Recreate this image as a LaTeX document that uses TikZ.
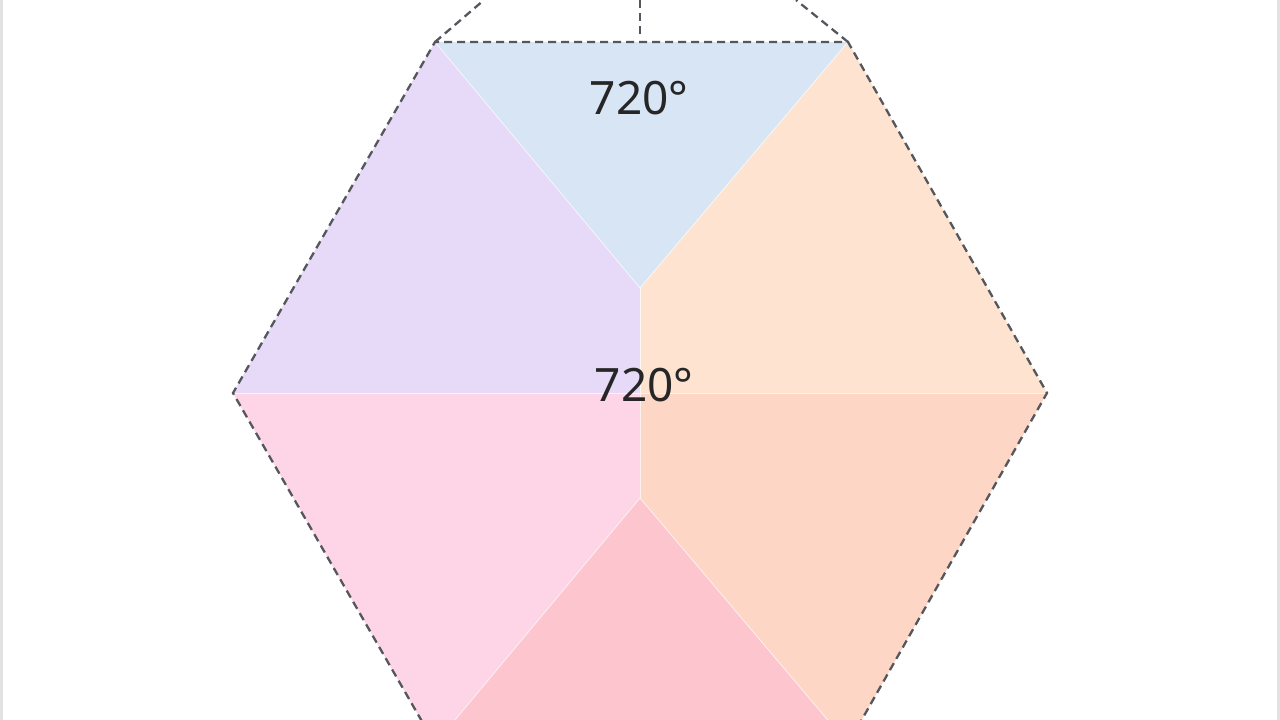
\documentclass[tikz,border=0pt]{standalone}
\usepackage{fontspec}
\setmainfont{Noto Sans}
\definecolor{cTop}{HTML}{D7E5F5}
\definecolor{cLeft}{HTML}{E6DAF8}
\definecolor{cRightUp}{HTML}{FDE3D0}
\definecolor{cLeftLow}{HTML}{FDD5E7}
\definecolor{cRightLow}{HTML}{FDD6C6}
\definecolor{cBottom}{HTML}{FDC5CD}
\definecolor{cDash}{HTML}{55575C}
\definecolor{cFrame}{HTML}{E2E2E2}
\tikzset{
  outline/.style={draw=cDash, line width=2.3pt, dash pattern=on 8pt off 5pt},
  seam/.style={draw=white, line width=0.8pt, opacity=0.7},
  anglelabel/.style={font=\fontsize{46}{50}\selectfont, text=black!85, inner sep=0pt}
}
\begin{document}
\begin{tikzpicture}[x=1pt,y=-1pt]
\useasboundingbox (0,0) rectangle (1280,720);
\fill[white] (0,0) rectangle (1280,720);
\fill[cFrame] (0,0) rectangle (2.5,720);
\fill[cFrame] (1276.5,0) rectangle (1280,720);
% key points
\coordinate (TL) at (435,42);
\coordinate (TR) at (848,42);
\coordinate (L) at (233,393);
\coordinate (R) at (1047,393);
\coordinate (BL) at (435,744);
\coordinate (BR) at (848,744);
\coordinate (A) at (640,288);
\coordinate (M) at (640,393);
\coordinate (B) at (640,498);
\coordinate (TM) at (640,34);
\coordinate (TopEnd) at (640,0);
\coordinate (UL) at (484,0);
\coordinate (UR) at (796,0);
% regions
\fill[cTop] (TL) -- (TR) -- (A) -- cycle;
\fill[cLeft] (TL) -- (A) -- (M) -- (L) -- cycle;
\fill[cRightUp] (TR) -- (R) -- (M) -- (A) -- cycle;
\fill[cLeftLow] (L) -- (M) -- (B) -- (BL) -- cycle;
\fill[cRightLow] (M) -- (R) -- (BR) -- (B) -- cycle;
\fill[cBottom] (B) -- (BR) -- (BL) -- cycle;
% seams
\draw[seam] (TL) -- (A) -- (TR);
\draw[seam] (A) -- (B);
\draw[seam] (L) -- (R);
\draw[seam] (BL) -- (B) -- (BR);
% outline
\draw[outline] (BL) -- (L) -- (TL) -- (TR) -- (R) -- (BR);
\draw[outline] (TL) -- (UL);
\draw[outline] (TR) -- (UR);
\draw[outline] (TopEnd) -- (TM);
% labels
\node[anglelabel] (lab1) at (639,98) {720°};
\node[anglelabel] (lab2) at (644,385) {720°};
\end{tikzpicture}
\end{document}
